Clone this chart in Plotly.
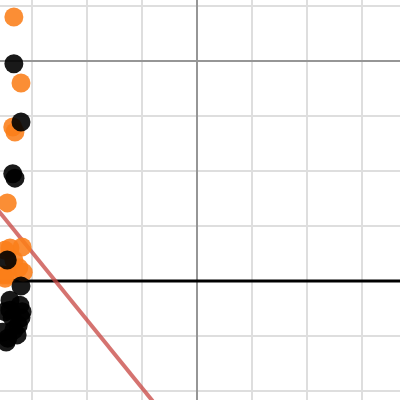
import plotly.graph_objects as go

# orange points
orange_x = [-3.33, -3.20, -3.35, -3.31, -3.45, -3.40, -3.18, -3.49, -3.24, -3.44, -3.53, -3.33, -3.16, -3.49]
orange_y = [0.80, -0.40, -1.20, -1.29, -2.58, -3.40, -3.38, -3.44, -3.76, -3.89, -3.89, -3.62, -3.84, -3.95]

# black points
black_x = [-3.33, -3.20, -3.35, -3.31, -3.45, -3.20, -3.40, -3.22, -3.20, -3.49, -3.36, -3.25,
           -3.53, -3.44, -3.33, -3.47, -3.27, -3.18, -3.40]
black_y = [-0.05, -1.11, -2.05, -2.13, -3.62, -4.09, -4.35, -4.44, -4.67, -4.56, -4.67, -4.80,
           -4.93, -5.04, -4.89, -5.11, -4.98, -4.56, -4.53]

# lines
hline_y = -4.0
red_slope = -1.235
red_intercept = -7.18

x_range = [-3.582, 3.69]
y_range = [-6.164, 1.109]

fig = go.Figure()

# horizontal black line
fig.add_trace(go.Scatter(x=[x_range[0] - 1, x_range[1] + 1], y=[hline_y, hline_y], mode="lines",
                         line=dict(color="black", width=3.2), hoverinfo="skip"))

# red regression line
red_x = [x_range[0] - 1, x_range[1] + 1]
red_y = [red_slope * v + red_intercept for v in red_x]
fig.add_trace(go.Scatter(x=red_x, y=red_y, mode="lines",
                         line=dict(color="rgba(199,68,64,0.75)", width=4), hoverinfo="skip"))

fig.add_trace(go.Scatter(x=orange_x, y=orange_y, mode="markers",
                         marker=dict(color="rgba(250,126,25,0.88)", size=19, line=dict(width=0))))
fig.add_trace(go.Scatter(x=black_x, y=black_y, mode="markers",
                         marker=dict(color="rgba(0,0,0,0.9)", size=19, line=dict(width=0))))

axis_style = dict(dtick=1, tick0=0, showticklabels=False, ticks="",
                  gridcolor="rgb(222,222,222)", gridwidth=1.5,
                  zeroline=True, zerolinecolor="rgb(150,150,150)", zerolinewidth=1.5,
                  showline=False)

fig.update_layout(
    width=400, height=400,
    margin=dict(l=0, r=0, t=0, b=0),
    paper_bgcolor="white", plot_bgcolor="white",
    showlegend=False,
    xaxis=dict(range=x_range, **axis_style),
    yaxis=dict(range=y_range, **axis_style),
)

# page body has an 8px margin by default; drop it so the plot fills the window
fix_page = (
    "document.body.style.margin='0';"
    "document.body.style.overflow='hidden';"
    "Plotly.relayout(document.getElementById('{plot_id}'), {width: 400, height: 400});"
)

fig.write_html("out.html", post_script=fix_page, config={"displayModeBar": False})
